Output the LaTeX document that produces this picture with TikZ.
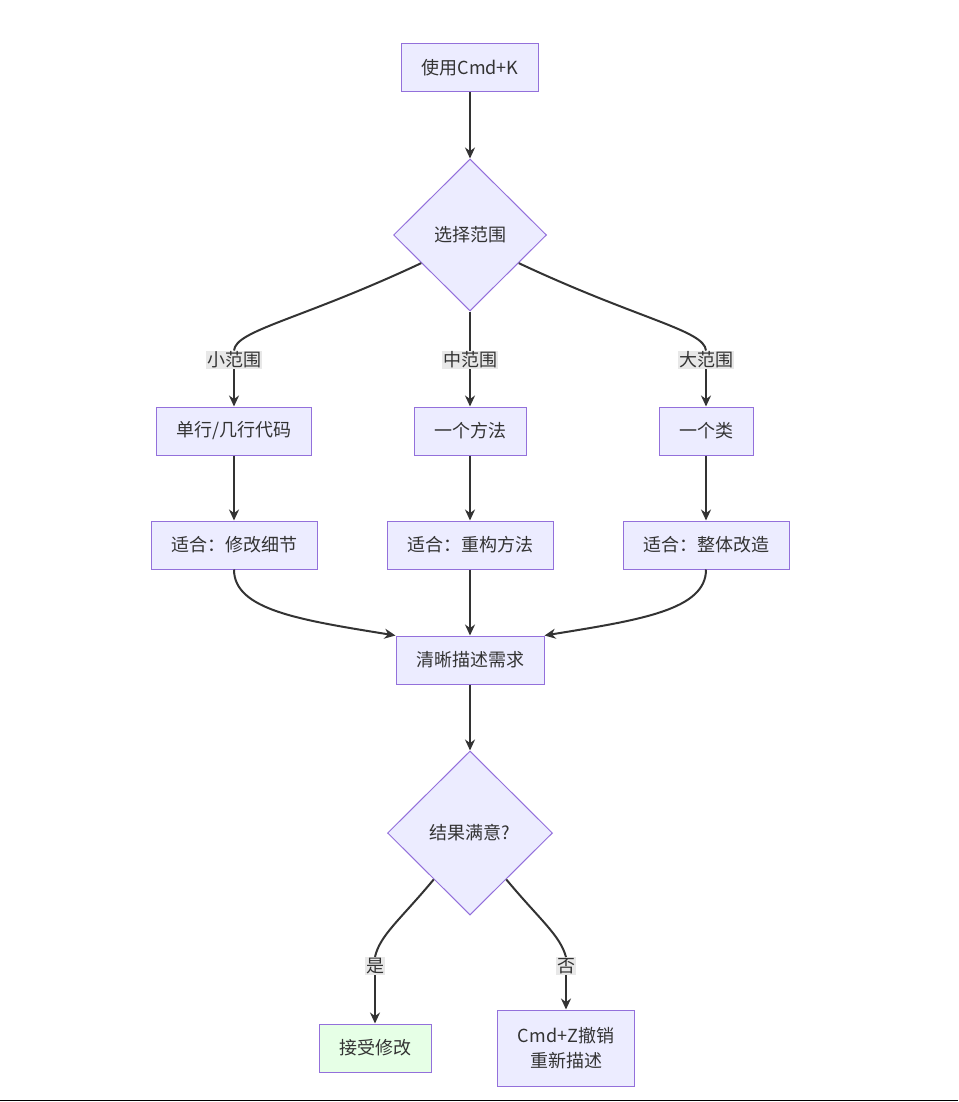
\documentclass[tikz,border=0pt]{standalone}
\usepackage{fontspec}
\newfontfamily\cjk{Noto Sans CJK SC}
\usetikzlibrary{shapes.geometric,arrows.meta}
\definecolor{nf}{HTML}{ECECFF}
\definecolor{ns}{HTML}{9370DB}
\definecolor{gf}{HTML}{E6FFE6}
\definecolor{ec}{HTML}{333333}
\definecolor{lb}{HTML}{E8E8E8}
\begin{document}
\begin{tikzpicture}[x=1pt,y=-1pt,font=\cjk\fontsize{18}{25}\selectfont,
 box/.style={draw=ns,fill=nf,line width=1pt,minimum height=48pt,inner xsep=20pt,align=center,text=ec},
 dia/.style={diamond,draw=ns,fill=nf,line width=1pt,inner sep=0pt,text=ec},
 lab/.style={fill=lb,inner sep=1pt,text=ec},
 e/.style={draw=ec,line width=2pt},
 a/.style={e,-{Stealth[length=11pt,width=10pt]}}]
\useasboundingbox (0,0) rectangle (958,1102);
\node[box] (s) at (470,68) {使用Cmd+K};
\node[dia,minimum width=153pt,minimum height=152pt] (d1) at (470,235) {选择范围};
\node[lab] (l1) at (234,360) {小范围};
\node[lab] (l2) at (470,360) {中范围};
\node[lab] (l3) at (706,360) {大范围};
\node[box] (b1) at (234,431) {单行/几行代码};
\node[box] (b2) at (470,431) {一个方法};
\node[box] (b3) at (706,431) {一个类};
\node[box] (c1) at (234,545) {适合：修改细节};
\node[box] (c2) at (470,545) {适合：重构方法};
\node[box] (c3) at (706,545) {适合：整体改造};
\node[box] (m) at (470,660) {清晰描述需求};
\node[dia,minimum width=165pt,minimum height=164pt] (d2) at (470,833) {结果满意?};
\node[lab] (y) at (375,966) {是};
\node[lab] (n) at (566,966) {否};
\node[box,fill=gf] (ok) at (375,1048) {接受修改};
\node[box,minimum height=76pt] (re) at (566,1048) {Cmd+Z撤销\\重新描述};
\draw[a] (s) -- (d1);
\draw[e] (d1.210) .. controls (300,320) and (236,330) .. (l1.north);
\draw[a] (l1.south) -- (b1.north);
\draw[e] (d1.south) -- (l2.north);
\draw[a] (l2.south) -- (b2.north);
\draw[e] (d1.-30) .. controls (640,320) and (704,330) .. (l3.north);
\draw[a] (l3.south) -- (b3.north);
\draw[a] (b1) -- (c1);
\draw[a] (b2) -- (c2);
\draw[a] (b3) -- (c3);
\draw[a] (c1.south) .. controls (234,610) and (300,620) .. (m.north west);
\draw[a] (c2) -- (m);
\draw[a] (c3.south) .. controls (706,610) and (640,620) .. (m.north east);
\draw[a] (m) -- (d2);
\draw[e] (d2.232) .. controls (400,920) and (380,935) .. (y.north);
\draw[a] (y.south) -- (ok.north);
\draw[e] (d2.-52) .. controls (540,920) and (560,935) .. (n.north);
\draw[a] (n.south) -- (re.north);
\draw[black,line width=1pt] (0,1100) -- (958,1100);
\end{tikzpicture}
\end{document}
